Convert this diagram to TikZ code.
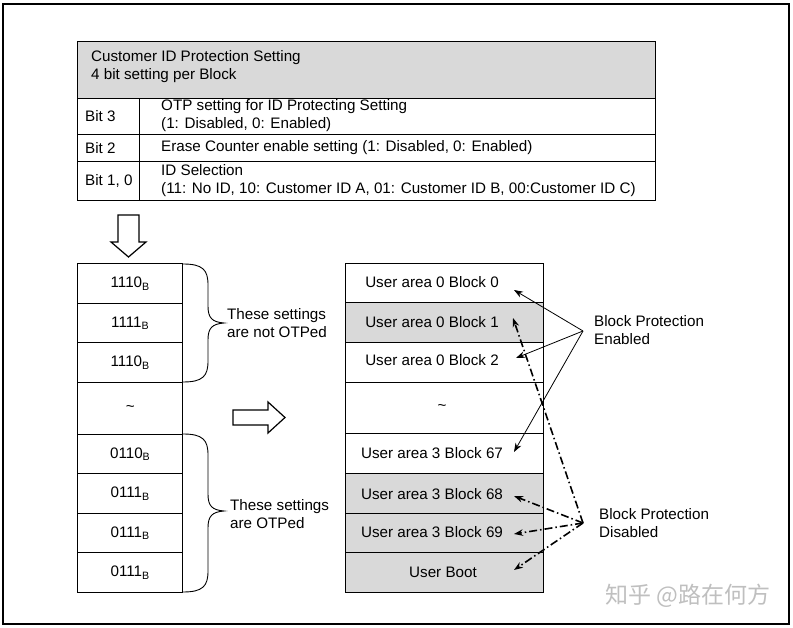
\documentclass[tikz,border=0pt]{standalone}
\usepackage{fontspec}
\setmainfont{Liberation Sans}
\newfontfamily\cjkfont{Noto Sans CJK SC}
\usetikzlibrary{arrows.meta,calc}
\definecolor{cellgray}{RGB}{217,217,217}
\begin{document}
\begin{tikzpicture}[x=1pt,y=-1pt,
  font=\fontsize{15.2}{18}\selectfont,
  box/.style={draw, line width=1.4pt, inner sep=0pt, anchor=north west},
  txt/.style={inner sep=0pt, align=left},
  hollow/.style={draw, line width=1.2pt, fill=white, line join=miter},
  enarrow/.style={-{Stealth[length=9pt,width=6.5pt]}, line width=0.8pt},
  disarrow/.style={-{Stealth[length=9pt,width=6.5pt]}, line width=1.6pt,
                   dash pattern=on 8pt off 3pt on 1.5pt off 3pt},
  brace/.style={draw, line width=0.9pt}]
\useasboundingbox (0,0) rectangle (793,628);
% outer frame
\draw[line width=1.3pt] (3,4) rectangle (789,624);

% ---------- top table ----------
\node[box, fill=cellgray, minimum width=578pt, minimum height=57pt] (hdr) at (77,41) {};
\node[txt, anchor=west] (hdrtxt) at (91,67) {Customer ID Protection Setting\\4 bit setting per Block};

\node[box, minimum width=62pt, minimum height=36pt] (b3) at (77,98) {};
\node[box, minimum width=516pt, minimum height=36pt] (d3) at (139,98) {};
\node[txt, anchor=west] (b3t) at (85,116) {Bit 3};
\node[txt, anchor=west] (d3t) at (161,116) {OTP setting for ID Protecting Setting\\(1: Disabled, 0: Enabled)};

\node[box, minimum width=62pt, minimum height=27pt] (b2) at (77,134) {};
\node[box, minimum width=516pt, minimum height=27pt] (d2) at (139,134) {};
\node[txt, anchor=west] (b2t) at (85,148) {Bit 2};
\node[txt, anchor=west] (d2t) at (161,148) {Erase Counter enable setting (1: Disabled, 0: Enabled)};

\node[box, minimum width=62pt, minimum height=39pt] (b1) at (77,161) {};
\node[box, minimum width=516pt, minimum height=39pt] (d1) at (139,161) {};
\node[txt, anchor=west] (b1t) at (85,181) {Bit 1, 0};
\node[txt, anchor=west] (d1t) at (161,181) {ID Selection\\(11: No ID, 10: Customer ID A, 01: Customer ID B, 00:Customer ID C)};

% ---------- hollow arrows ----------
\draw[hollow] (118,215) -- (139,215) -- (139,242) -- (146,242) -- (128.5,257)
  -- (111,242) -- (118,242) -- cycle;
\draw[hollow] (233,410) -- (268,410) -- (268,402) -- (285,417.5) -- (268,433)
  -- (268,425) -- (233,425) -- cycle;

% ---------- left column ----------
\node[box, minimum width=105pt, minimum height=40pt] (L1) at (77,263) {1110\textsubscript{B}};
\node[box, minimum width=105pt, minimum height=39pt] (L2) at (77,303) {1111\textsubscript{B}};
\node[box, minimum width=105pt, minimum height=40pt] (L3) at (77,342) {1110\textsubscript{B}};
\node[box, minimum width=105pt, minimum height=52pt] (L4) at (77,382) {\~{}};
\node[box, minimum width=105pt, minimum height=39pt] (L5) at (77,434) {0110\textsubscript{B}};
\node[box, minimum width=105pt, minimum height=40pt] (L6) at (77,473) {0111\textsubscript{B}};
\node[box, minimum width=105pt, minimum height=39pt] (L7) at (77,513) {0111\textsubscript{B}};
\node[box, minimum width=105pt, minimum height=40pt] (L8) at (77,552) {0111\textsubscript{B}};

% braces
\draw[brace] (183,264) .. controls (203,264) and (208,270) .. (208,285) -- (208,306)
  .. controls (208,318) and (212,322) .. (224,323)
  .. controls (212,324) and (208,328) .. (208,340) -- (208,361)
  .. controls (208,376) and (203,382) .. (183,382);
\draw[brace] (183,434) .. controls (203,434) and (208,440) .. (208,455) -- (208,494)
  .. controls (208,506) and (212,510) .. (224,511)
  .. controls (212,512) and (208,516) .. (208,528) -- (208,571)
  .. controls (208,586) and (203,592) .. (183,592);
\node[txt, anchor=west] (nototp) at (227,323) {These settings\\are not OTPed};
\node[txt, anchor=west] (otp) at (230,514) {These settings\\are OTPed};

% ---------- right column ----------
\node[box, minimum width=198pt, minimum height=39pt] (R1) at (345,263) {};
\node[box, fill=cellgray, minimum width=198pt, minimum height=40pt] (R2) at (345,302) {};
\node[box, minimum width=198pt, minimum height=40pt] (R3) at (345,342) {};
\node[box, minimum width=198pt, minimum height=51pt] (R4) at (345,382) {};
\node[box, minimum width=198pt, minimum height=40pt] (R5) at (345,433) {};
\node[box, fill=cellgray, minimum width=198pt, minimum height=40pt] (R6) at (345,473) {};
\node[box, fill=cellgray, minimum width=198pt, minimum height=39pt] (R7) at (345,513) {};
\node[box, fill=cellgray, minimum width=198pt, minimum height=40pt] (R8) at (345,552) {};

\node[txt] (R1t) at (432,282) {User area 0 Block 0};
\node[txt] (R2t) at (432,322) {User area 0 Block 1};
\node[txt] (R3t) at (432,360) {User area 0 Block 2};
\node[txt] (R4t) at (442,408) {\~{}};
\node[txt] (R5t) at (432,453) {User area 3 Block 67};
\node[txt] (R6t) at (432,494) {User area 3 Block 68};
\node[txt] (R7t) at (432,532) {User area 3 Block 69};
\node[txt] (R8t) at (443,572) {User Boot};

% labels
\node[txt, anchor=west] (enl) at (594,330) {Block Protection\\Enabled};
\node[txt, anchor=west] (disl) at (599,523) {Block Protection\\Disabled};
\coordinate (en) at (583,331);
\coordinate (dis) at (583,523);
\coordinate (e0) at (514,290);
\coordinate (e2) at (516,358);
\coordinate (e67) at (514,452);
\coordinate (d1) at (513,318);
\coordinate (d68) at (514,496);
\coordinate (d69) at (514,534);
\coordinate (dB) at (514,570);

\draw[enarrow] (en) -- (e0);
\draw[enarrow] (en) -- (e2);
\draw[enarrow] (en) -- (e67);
\draw[disarrow] (dis) -- (d1);
\draw[disarrow] (dis) -- (d68);
\draw[disarrow] (dis) -- (d69);
\draw[disarrow] (dis) -- (dB);

% watermark
\node[inner sep=0pt, text=black!25, font=\cjkfont\fontsize{23}{25}\selectfont] (wm) at (688,596) {知乎 @路在何方};
\end{tikzpicture}
\end{document}
